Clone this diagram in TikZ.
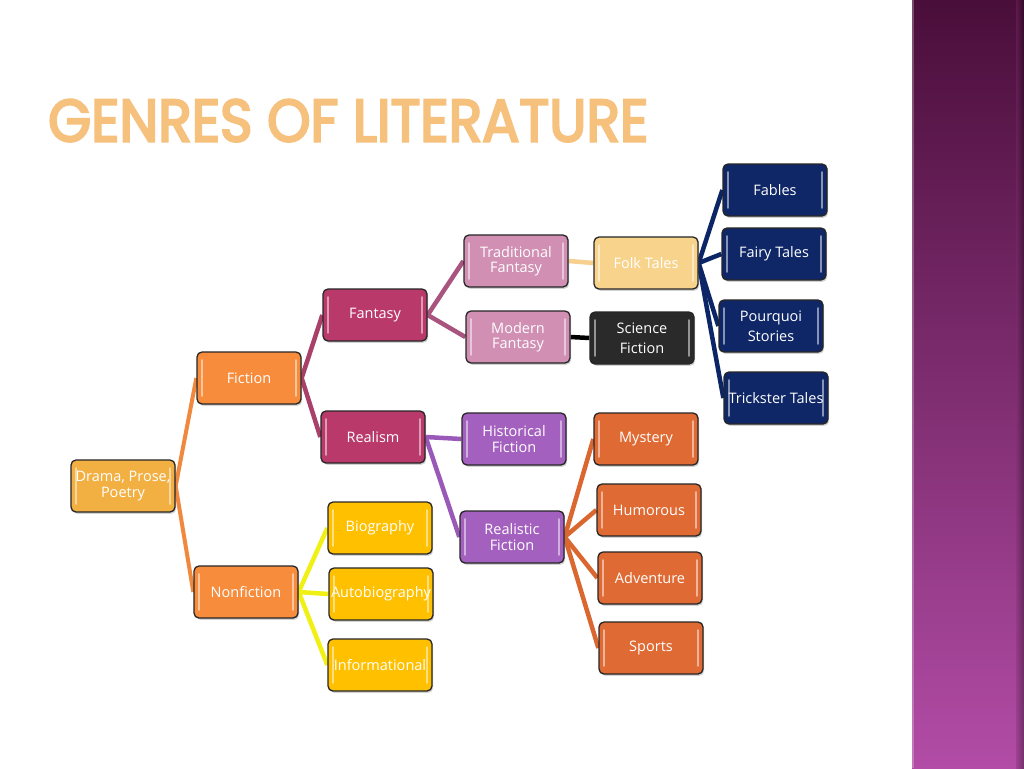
\documentclass[tikz,border=0pt]{standalone}
\usepackage{fontspec}
\setmainfont{Open Sans}
\newfontfamily\titlefont[FakeBold=4]{Poppins}
\usetikzlibrary{shadows}
\pgfdeclarelayer{bg}
\pgfdeclarelayer{edges}
\pgfsetlayers{bg,edges,main}
\definecolor{cDrama}{RGB}{242,176,66}
\definecolor{cOrange}{RGB}{247,140,60}
\definecolor{cCrimson}{RGB}{184,57,106}
\definecolor{cPink}{RGB}{208,143,179}
\definecolor{cFolk}{RGB}{248,211,140}
\definecolor{cDark}{RGB}{42,42,42}
\definecolor{cPurple}{RGB}{164,96,190}
\definecolor{cRust}{RGB}{224,106,51}
\definecolor{cGold}{RGB}{255,192,0}
\definecolor{cNavy}{RGB}{15,39,102}
\definecolor{eOrange}{RGB}{240,136,62}
\definecolor{eCrimson}{RGB}{168,64,106}
\definecolor{eMauve}{RGB}{169,83,127}
\definecolor{ePurple}{RGB}{154,88,184}
\definecolor{eFolk}{RGB}{247,207,142}
\definecolor{eRust}{RGB}{217,103,47}
\definecolor{eYellow}{RGB}{240,240,20}
\definecolor{eNavy}{RGB}{11,37,102}
\definecolor{titleCol}{RGB}{246,192,125}
\definecolor{barTop}{RGB}{74,14,58}
\definecolor{barMid}{RGB}{128,48,108}
\definecolor{barBot}{RGB}{178,76,166}
\tikzset{
  box/.style={draw=black!85, line width=1.3pt, rounded corners=5pt,
    minimum width=104pt, minimum height=52pt, inner xsep=0pt, inner ysep=2pt,
    align=center, text=white, font=\fontsize{14.5}{15.5}\selectfont,
    drop shadow={opacity=0.35, shadow xshift=1.2pt, shadow yshift=-1.8pt},
    path picture={
      \draw[white, opacity=0.5, line width=1.6pt, line cap=round]
        ([shift={(5pt,-8pt)}]path picture bounding box.north west) --
        ([shift={(5pt,8pt)}]path picture bounding box.south west);
      \draw[white, opacity=0.5, line width=1.6pt, line cap=round]
        ([shift={(-5pt,-8pt)}]path picture bounding box.north east) --
        ([shift={(-5pt,8pt)}]path picture bounding box.south east);
    }},
  wide/.style={font=\fontsize{14.5}{20}\selectfont},
  link/.style={line width=4.5pt},
}
\begin{document}
\begin{tikzpicture}[x=1pt,y=-1pt]
\useasboundingbox (0,0) rectangle (1024,768);
\begin{pgfonlayer}{bg}
  \fill[white] (0,0) rectangle (1024,768);
  \shade[top color=barTop, middle color=barMid, bottom color=barBot] (912,0) rectangle (1024,768);
  \fill[white, opacity=0.25] (912,0) rectangle (914,768);
  \shade[left color=barMid, right color=black, opacity=0.35] (1016,0) rectangle (1024,768);
\end{pgfonlayer}

\node[anchor=south west, inner sep=0pt, text=titleCol] (title) at (48,142)
  {\resizebox{600pt}{42pt}{\titlefont GENRES OF LITERATURE}};

% nodes
\node[box, fill=cDrama, text=white] (drama) at (123,486) {Drama, Prose,\\Poetry};
\node[box, fill=cOrange] (fiction) at (249,378) {Fiction};
\node[box, fill=cOrange] (nonfiction) at (246,592) {Nonfiction};
\node[box, fill=cCrimson] (fantasy) at (375,315) {Fantasy};
\node[box, fill=cCrimson] (realism) at (373,437) {Realism};
\node[box, fill=cPink] (trad) at (516,261) {Traditional\\Fantasy};
\node[box, fill=cPink] (modern) at (518,337) {Modern\\Fantasy};
\node[box, fill=cFolk] (folk) at (646,263) {Folk Tales};
\node[box, wide, fill=cDark] (scifi) at (642,338) {Science\\Fiction};
\node[box, fill=cPurple] (hist) at (514,439) {Historical\\Fiction};
\node[box, fill=cPurple] (realistic) at (512,537) {Realistic\\Fiction};
\node[box, fill=cRust] (mystery) at (646,439) {Mystery};
\node[box, fill=cRust] (humorous) at (649,510) {Humorous};
\node[box, fill=cRust] (adventure) at (650,578) {Adventure};
\node[box, fill=cRust] (sports) at (651,648) {Sports};
\node[box, fill=cGold] (bio) at (380,528) {Biography};
\node[box, fill=cGold] (auto) at (381,594) {Autobiography};
\node[box, fill=cGold] (info) at (380,665) {Informational};
\node[box, fill=cNavy] (fables) at (775,190) {Fables};
\node[box, fill=cNavy] (fairy) at (774,254) {Fairy Tales};
\node[box, wide, fill=cNavy] (pourquoi) at (771,326) {Pourquoi\\Stories};
\node[box, fill=cNavy] (trickster) at (776,398) {Trickster Tales};

% connectors
\begin{pgfonlayer}{edges}
  \draw[link, eOrange, line width=4pt] (drama.east) -- (fiction.west);
  \draw[link, eOrange, line width=4pt] (drama.east) -- (nonfiction.west);
  \draw[link, eCrimson] (fiction.east) -- (fantasy.west);
  \draw[link, eCrimson] (fiction.east) -- (realism.west);
  \draw[link, eMauve] (fantasy.east) -- (trad.west);
  \draw[link, eMauve] (fantasy.east) -- (modern.west);
  \draw[link, ePurple] (realism.east) -- (hist.west);
  \draw[link, ePurple] (realism.east) -- (realistic.west);
  \draw[link, eFolk] (trad.east) -- (folk.west);
  \draw[link, black] (modern.east) -- (scifi.west);
  \draw[link, eNavy] (folk.east) -- (fables.west);
  \draw[link, eNavy] (folk.east) -- (fairy.west);
  \draw[link, eNavy] (folk.east) -- (pourquoi.west);
  \draw[link, eNavy] (folk.east) -- (trickster.west);
  \draw[link, eRust] (realistic.east) -- (mystery.west);
  \draw[link, eRust] (realistic.east) -- (humorous.west);
  \draw[link, eRust] (realistic.east) -- (adventure.west);
  \draw[link, eRust] (realistic.east) -- (sports.west);
  \draw[link, eYellow] (nonfiction.east) -- (bio.west);
  \draw[link, eYellow] (nonfiction.east) -- (auto.west);
  \draw[link, eYellow] (nonfiction.east) -- (info.west);
\end{pgfonlayer}
\end{tikzpicture}
\end{document}
